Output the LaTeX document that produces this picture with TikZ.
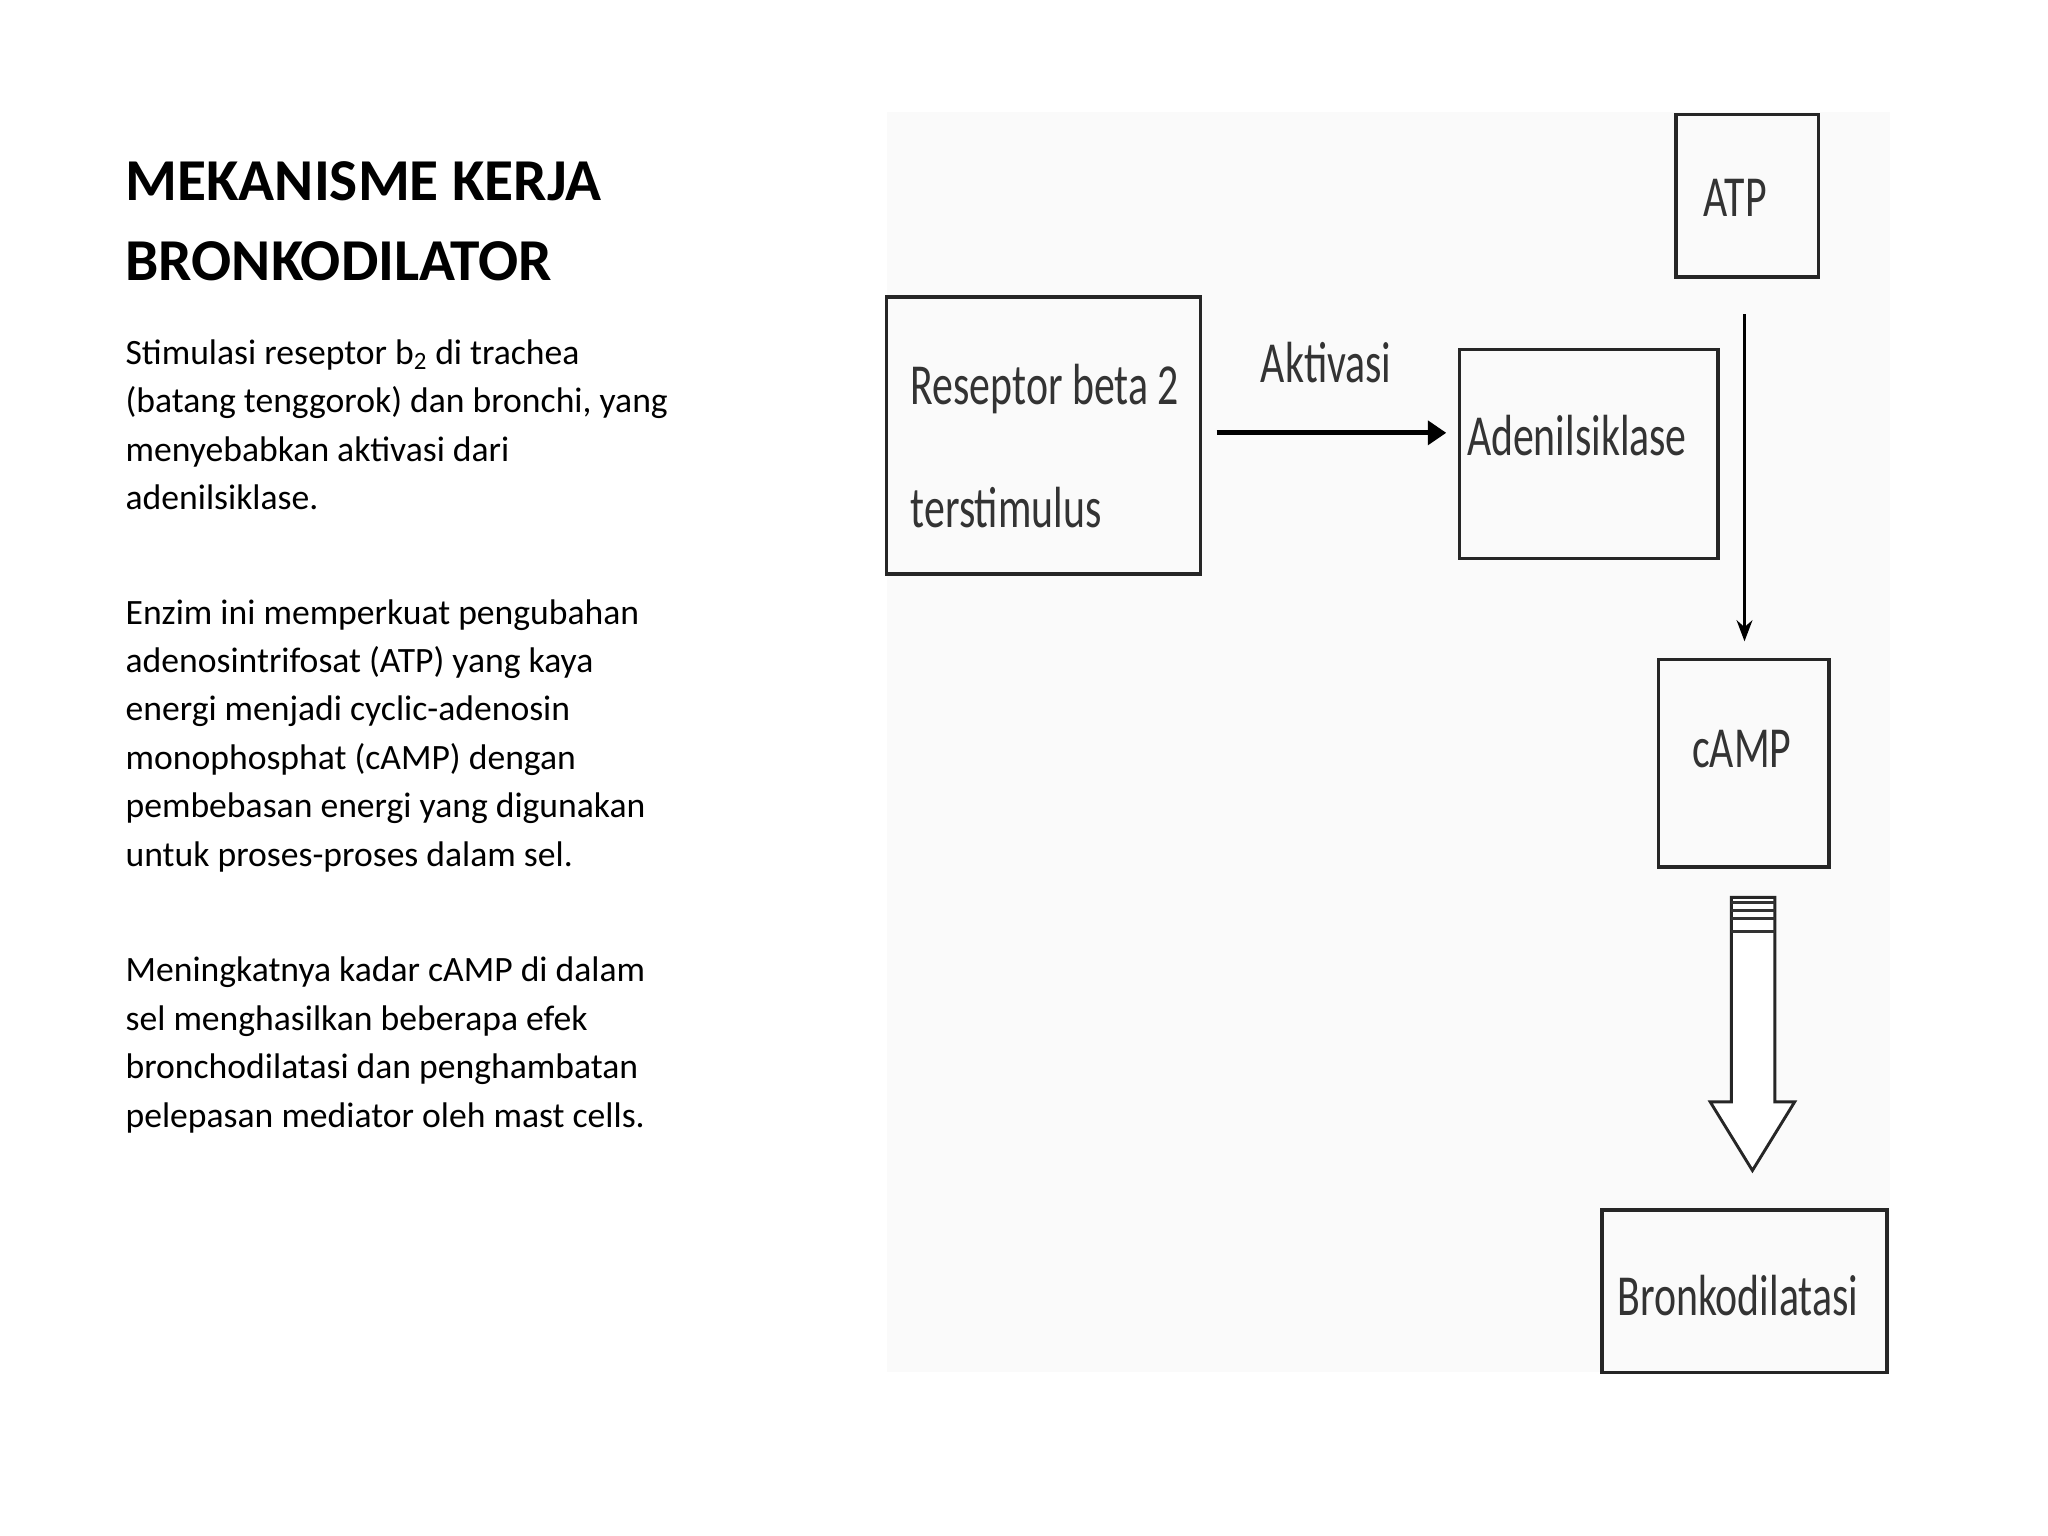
\documentclass[tikz,border=0pt]{standalone}
\usepackage{fontspec}
\setmainfont{Carlito}
\usetikzlibrary{arrows.meta}
\begin{document}
\begin{tikzpicture}[x=1pt,y=-1pt,
  box/.style={draw=black!85,line width=2.5pt},
  dtext/.style={font=\fontsize{44}{50}\selectfont,xscale=0.72,text=black!80,inner sep=0},
  body/.style={anchor=north west,align=left,font=\fontsize{27}{36.7}\selectfont,inner sep=0,text=black}]
\useasboundingbox (0,0) rectangle (1552,1164);
\fill[white] (0,0) rectangle (1552,1164);
\node[anchor=north west,align=left,inner sep=0,font=\bfseries\fontsize{45}{61}\selectfont] (title) at (95,122) {MEKANISME KERJA\\BRONKODILATOR};
\node[body] (p1) at (95,257) {Stimulasi reseptor b\textsubscript{2} di trachea\\(batang tenggorok) dan bronchi, yang\\menyebabkan aktivasi dari\\adenilsiklase.};
\node[body] (p2) at (95,454) {Enzim ini memperkuat pengubahan\\adenosintrifosat (ATP) yang kaya\\energi menjadi cyclic-adenosin\\monophosphat (cAMP) dengan\\pembebasan energi yang digunakan\\untuk proses-proses dalam sel.};
\node[body] (p3) at (95,725) {Meningkatnya kadar cAMP di dalam\\sel menghasilkan beberapa efek\\bronchodilatasi dan penghambatan\\pelepasan mediator oleh mast cells.};
\fill[black!2] (672,85) rectangle (1432,1040);
\draw[box] (672,225) rectangle (910,435);
\node[dtext,anchor=west] (r1) at (690,295) {Reseptor beta 2};
\node[dtext,anchor=west] (r2) at (690,385) {terstimulus};
\coordinate (rs) at (922,328);
\draw[box] (1106,265) rectangle (1302,423);
\node[dtext] (ad) at (1195,330) {Adenilsiklase};
\coordinate (ae) at (1096,328);
\node[dtext] (akt) at (1005,275) {Aktivasi};
\draw[line width=4pt,-{Triangle[length=14pt,width=18pt]}] (rs) -- (ae);
\draw[box] (1270,87) rectangle (1378,210);
\node[dtext] (atp) at (1315,150) {ATP};
\coordinate (a1) at (1322,238);
\coordinate (a2) at (1322,486);
\draw[line width=2pt,-{Stealth[length=16pt,width=12pt]}] (a1) -- (a2);
\draw[box] (1257,500) rectangle (1386,657);
\node[dtext] (camp) at (1320,568) {cAMP};
\draw[line width=2.2pt,black!85,fill=white] (1312,680) -- (1345,680) -- (1345,835) -- (1360,835) -- (1328,887) -- (1296,835) -- (1312,835) -- cycle;
\foreach \yy in {684,690,696,706} \draw[line width=2.5pt,black!80] (1312,\yy) -- (1345,\yy);
\draw[box] (1214,917) rectangle (1430,1040);
\node[dtext] (br) at (1317,982) {Bronkodilatasi};
\end{tikzpicture}
\end{document}
